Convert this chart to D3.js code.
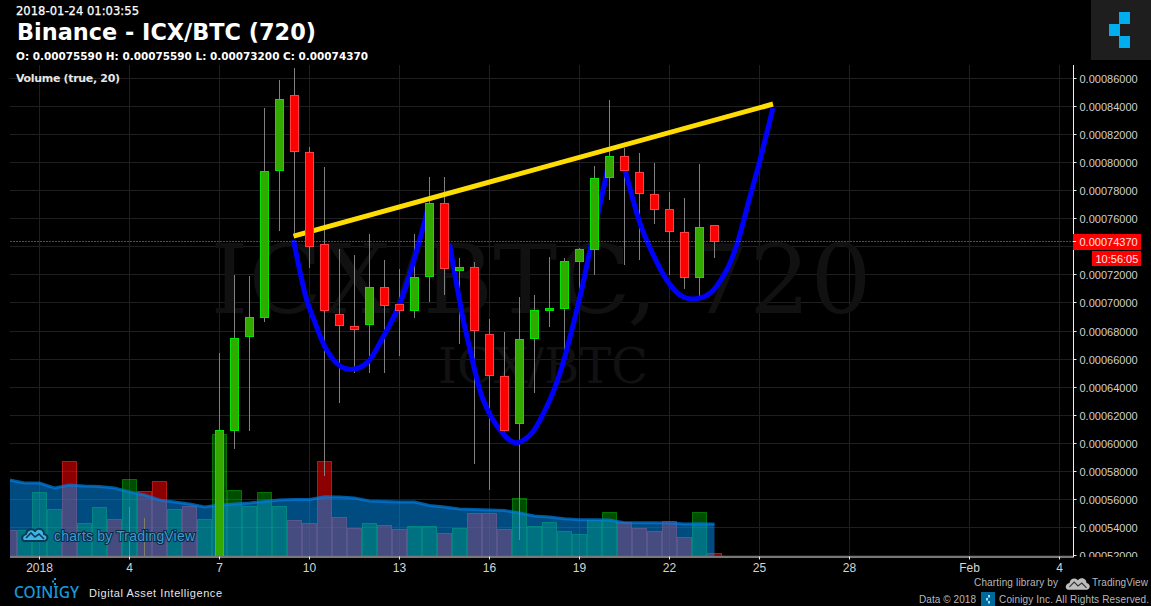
<!DOCTYPE html>
<html><head><meta charset="utf-8">
<script src="https://cdn.jsdelivr.net/npm/d3@7"></script>
<style>
html,body{margin:0;padding:0;background:#000;overflow:hidden}
svg{display:block}
text{font-family:"Liberation Sans",Arial,sans-serif}
</style></head><body>
<svg id="c" width="1151" height="606"></svg>
<script>
// ---------- data (prices in units of 1e-5 BTC) ----------
const exchangeTitle = "Binance - ICX/BTC (720)";
const stampText = "2018-01-24 01:03:55";
const ohlcText = "O: 0.00075590 H: 0.00075590 L: 0.00073200 C: 0.00074370";
const volumeLabel = "Volume (true, 20)";
const priceTicks = [86,84,82,80,78,76,74,72,70,68,66,64,62,60,58,56,54,52];
const dateTicks = [[2018,0,1,"2018"],[2018,0,4,"4"],[2018,0,7,"7"],[2018,0,10,"10"],[2018,0,13,"13"],[2018,0,16,"16"],[2018,0,19,"19"],[2018,0,22,"22"],[2018,0,25,"25"],[2018,0,28,"28"],[2018,1,1,"Feb"],[2018,1,4,"4"]];
// 12h candles from 2018-01-07 00:00
const candleOpen  = [50.0,60.90,67.60,68.95,79.39,84.80,80.74,74.18,69.19,68.34,68.41,71.12,69.91,69.41,71.83,77.10,72.26,72.54,67.77,64.77,61.35,67.41,69.45,69.59,72.94,73.80,78.89,80.45,79.31,77.75,76.68,75.04,71.76,75.59];
const candleHigh  = [66.43,71.99,71.92,83.88,85.89,86.73,81.10,79.67,73.83,73.40,74.92,73.06,72.42,74.92,78.96,78.96,73.18,72.92,68.86,67.93,70.43,70.57,73.28,73.18,73.90,79.76,84.47,81.02,80.67,79.96,77.89,77.46,79.88,75.59];
const candleLow   = [49.5,59.61,60.90,68.67,75.13,74.99,72.49,57.69,62.89,65.03,65.03,65.03,66.24,68.95,70.09,70.55,67.10,58.54,56.69,60.40,53.13,63.61,68.31,66.65,69.64,71.99,77.34,72.71,73.06,75.63,71.99,71.02,70.38,73.20];
const candleClose = [60.95,67.50,68.98,79.39,84.52,80.74,73.97,69.41,68.34,68.10,71.12,69.76,69.41,71.83,77.10,72.40,72.54,67.98,64.77,60.85,67.41,69.50,69.62,72.97,73.83,78.89,80.45,79.39,77.75,76.61,75.04,71.76,75.39,74.37];
// two earlier candles whose wicks just reach the visible range (2018-01-04 00:00, 12:00)
const earlyHighs = [55.46,54.67];
// volume per 12h bar from 2017-12-31 00:00
const volumeValues = [26,26,64,47,95,33,49,37,77,65,75,47,50,37,122,66,50,64,50,36,33,95,39,28,33,31,27,30,30,23,28,43,43,27,58,30,34,25,22,36,44,34,28,25,35,19,44,3];
const volumeUp = [0,1,1,1,0,1,1,0,1,0,0,1,0,1,1,1,1,1,1,0,0,0,0,0,1,0,0,1,1,0,1,0,0,0,1,1,1,1,1,1,1,0,0,0,0,0,1,0];
const volumeMA = [76,73,73,68,71,70,69.5,68,64,61,56,54,52,49,51,52,53,54.5,56,56.5,56.5,59.3,59,58,55,54.5,54,54,50.5,49,47,46.5,46,45.5,43,40,39,37.3,36.3,36.3,36,33.3,33.3,33.3,33,32,32.3,32];
const lastPrice = 74.37;
const countdownText = "10:56:05";
// drawings: [day of January, price]
const trendLine = [[9.467,74.77],[25.45,84.18]];
const cupOne = [[9.467,74.49],[9.907,70.21],[10.15,68.79],[10.573,66.65],[11.017,65.51],[11.407,65.26],[11.907,65.72],[12.46,67.60],[13.017,70.00],[13.85,75.91],[13.967,76.98]];
const cupTwo = [[14.667,74.2],[15.127,68.79],[15.317,67.0],[15.793,63.08],[16.35,60.95],[16.85,60.04],[17.35,60.59],[17.907,62.61],[18.35,65.01],[19.017,70.45],[19.35,73.78],[19.907,79.26],[19.983,80.19]];
const cupThree = [[20.517,79.48],[21.017,75.68],[21.35,73.92],[21.907,71.64],[22.35,70.57],[22.76,70.28],[23.35,70.69],[23.907,72.35],[24.24,74.13],[24.683,77.58],[25.017,80.19],[25.45,83.90]];

// ---------- scales ----------
const L=10,R=1073,T=65,B=556;
const H12=12*3600e3, J=(m,d,h=0)=>Date.UTC(2018,m,d,h);
const x=d3.scaleUtc().domain([J(0,1),J(1,4)]).range([39.5,1059.5]);
const y=d3.scaleLinear().domain([86,52]).range([78.5,555.5]);
const yV=d3.scaleLinear().domain([0,100]).range([556,456]);
const barTime=i=>J(0,1)+(i-2)*H12;
const candleTime=i=>J(0,7)+i*H12;
const dayX=d=>x(J(0,1)+(d-1)*2*H12);
const crisp=v=>Math.floor(v)+.5;

const svg=d3.select("#c");
const defs=svg.append("defs");
defs.append("clipPath").attr("id","plot").append("rect").attr("x",L).attr("y",T).attr("width",R-L).attr("height",B-T);
defs.append("clipPath").attr("id","yl").append("rect").attr("x",0).attr("y",T).attr("width",78).attr("height",B-T+1);

svg.append("rect").attr("width",1151).attr("height",606).attr("fill","#000");
const plot=svg.append("g").attr("clip-path","url(#plot)");

// grid
const gridColor="#1f1f1f";
plot.append("g").selectAll("line").data(priceTicks).join("line")
  .attr("x1",L).attr("x2",R).attr("y1",d=>crisp(y(d))).attr("y2",d=>crisp(y(d))).attr("stroke",gridColor);
const tickDates=dateTicks.map(d=>new Date(Date.UTC(d[0],d[1],d[2])));
plot.append("g").selectAll("line").data(tickDates).join("line")
  .attr("y1",T).attr("y2",B).attr("x1",d=>crisp(x(d))).attr("x2",d=>crisp(x(d))).attr("stroke",gridColor);

// watermark
plot.append("text").text("ICX/BTC, 720").attr("x",541).attr("y",313).attr("text-anchor","middle")
  .style("font-family","'DejaVu Serif'").style("font-size","96px").attr("fill","#111");
plot.append("text").text("ICX/BTC").attr("x",543).attr("y",383).attr("text-anchor","middle")
  .style("font-family","'DejaVu Serif'").style("font-size","48px").attr("fill","#111");

// volume
plot.append("g").selectAll("rect").data(volumeValues).join("rect")
  .attr("x",(d,i)=>x(barTime(i))-7).attr("width",14)
  .attr("y",d=>Math.round(yV(d))+.5).attr("height",d=>yV(0)-Math.round(yV(d)))
  .attr("fill",(d,i)=>volumeUp[i]?"rgba(0,255,0,.3)":"rgba(255,0,0,.55)")
  .attr("stroke",(d,i)=>volumeUp[i]?"rgba(0,255,0,.36)":"rgba(255,40,40,.6)");
const area=d3.area().x((d,i)=>x(barTime(i))).y0(yV(0)).y1(d=>yV(d));
const line=d3.line().x((d,i)=>x(barTime(i))).y(d=>yV(d));
plot.append("path").attr("d",area(volumeMA)).attr("fill","rgba(0,150,255,.5)");
plot.append("path").attr("d",line(volumeMA)).attr("fill","none").attr("stroke","rgba(0,125,225,.7)").attr("stroke-width",3);

// wicks
plot.append("g").selectAll("line").data(earlyHighs).join("line")
  .attr("x1",(d,i)=>x(J(0,4)+i*H12)).attr("x2",(d,i)=>x(J(0,4)+i*H12))
  .attr("y1",d=>y(d)).attr("y2",B).attr("stroke","#8a8860").attr("stroke-opacity",.85);
plot.append("g").selectAll("line").data(candleHigh).join("line")
  .attr("x1",(d,i)=>x(candleTime(i))).attr("x2",(d,i)=>x(candleTime(i)))
  .attr("y1",d=>Math.round(y(d))).attr("y2",(d,i)=>Math.round(y(candleLow[i])))
  .attr("stroke","#808080");

// drawings
const dl=d3.line().x(d=>dayX(d[0])).y(d=>y(d[1]));
const cl=d3.line().x(d=>dayX(d[0])).y(d=>y(d[1])).curve(d3.curveCatmullRom.alpha(.5));
[cupOne,cupTwo,cupThree].forEach(c=>plot.append("path").attr("d",cl(c)).attr("fill","none").attr("stroke","#0000ff").attr("stroke-width",5));
plot.append("path").attr("d",dl(trendLine)).attr("stroke","#ffdd00").attr("stroke-width",5).attr("fill","none");

// last price line
plot.append("line").attr("x1",L).attr("x2",R).attr("y1",crisp(y(lastPrice))).attr("y2",crisp(y(lastPrice)))
  .attr("stroke","#d01818").attr("stroke-dasharray","2 1");

// candle bodies
plot.append("g").selectAll("rect").data(candleClose).join("rect")
  .attr("x",(d,i)=>x(candleTime(i))-4)
  .attr("width",8)
  .attr("y",(d,i)=>Math.round(y(Math.max(d,candleOpen[i])))+.5)
  .attr("height",(d,i)=>Math.max(1,Math.round(y(Math.min(d,candleOpen[i])))-Math.round(y(Math.max(d,candleOpen[i])))-1))
  .attr("fill",(d,i)=>d>=candleOpen[i]?"#33a900":"#ff0000")
  .attr("stroke",(d,i)=>d>=candleOpen[i]?"#00e600":"#ff4040");

// axes
const yAxis=d3.axisRight(y).tickValues(priceTicks).tickSize(3).tickPadding(3).tickFormat(d=>(d/1e5).toFixed(8));
const gy=svg.append("g").attr("transform",`translate(${R+.5},0)`).attr("clip-path","url(#yl)").call(yAxis);
gy.select(".domain").remove();
gy.selectAll(".tick").attr("transform",d=>`translate(0,${crisp(y(d))})`);
gy.selectAll("line").attr("stroke","#e8e8e8");
gy.selectAll("text").attr("fill","#d0d0d0").attr("dy","0.4em").style("font-size","11px").style("font-family","'Liberation Sans'");
// the last-price flag covers the 0.00074 label
gy.selectAll(".tick").filter(d=>d===74).select("text").remove();
const labelByTime=new Map(tickDates.map((d,i)=>[+d,dateTicks[i][3]]));
const xAxis=d3.axisBottom(x).tickValues(tickDates).tickSize(3).tickPadding(4).tickFormat(d=>labelByTime.get(+d));
const gx=svg.append("g").attr("transform",`translate(0,${B+.5})`).call(xAxis);
gx.select(".domain").remove();
gx.selectAll(".tick").attr("transform",d=>`translate(${crisp(x(d))},0)`);
gx.selectAll("line").attr("stroke","#e8e8e8");
gx.selectAll("text").attr("fill","#d4d4d4").style("font-size","12px").style("font-family","'Liberation Sans'");
svg.append("line").attr("x1",L).attr("x2",R+1).attr("y1",B+1).attr("y2",B+1).attr("stroke","#f0f0f0");
svg.append("line").attr("x1",R+.5).attr("x2",R+.5).attr("y1",T).attr("y2",B+1).attr("stroke","#f0f0f0");

// price labels
const ly=crisp(y(lastPrice));
svg.append("rect").attr("x",R).attr("y",234).attr("width",68).attr("height",16).attr("fill","#ff0000");
svg.append("line").attr("x1",R).attr("x2",R+3).attr("y1",ly).attr("y2",ly).attr("stroke","#fff");
svg.append("text").text((lastPrice/1e5).toFixed(8)).attr("x",1079.5).attr("y",246).attr("fill","#ffe6e6").style("font-size","11px");
svg.append("rect").attr("x",1092).attr("y",251).attr("width",49).attr("height",15).attr("fill","#ff0000");
svg.append("text").text(countdownText).attr("x",1095.5).attr("y",262.5).attr("fill","#ffe6e6").style("font-size","11px");

// header
const hd=(t,xp,yp,size,w,len)=>svg.append("text").text(t).attr("x",xp).attr("y",yp).attr("fill","#fff")
  .attr("textLength",len).attr("lengthAdjust","spacingAndGlyphs")
  .style("font-family","'DejaVu Sans'").style("font-size",size+"px").style("font-weight",w);
hd(stampText,16,15,11.5,"normal",123).attr("stroke","#fff").attr("stroke-width",.25);
hd(exchangeTitle,17,40,23,"bold",299);
hd(ohlcText,16,60,11,"bold",352);
svg.append("text").text(volumeLabel).attr("x",16).attr("y",82).attr("fill","#e6e6e6")
  .attr("textLength",104).style("font-family","'DejaVu Sans'").style("font-size","11px").style("font-weight","bold");

// top-right logo
svg.append("rect").attr("x",1091).attr("y",0).attr("width",60).attr("height",60).attr("fill","#1e1e1e");
const sq=[[1119,12],[1109,24],[1119,36]];
svg.append("g").selectAll("rect").data(sq).join("rect").attr("x",d=>d[0]).attr("y",d=>d[1]).attr("width",11).attr("height",12).attr("fill","#00aeef");

// TradingView overlay
const cloud="M-10 6 C-14 6 -14 0 -9 -1 C-8 -6 -3 -7 0 -4 C3 -8 9 -6 9 -1 C14 0 13 6 9 6 Z";
svg.append("path").attr("d",cloud).attr("transform","translate(35,535)")
  .attr("fill","#3fb4e6").attr("stroke","#0c3a55").attr("stroke-width",2);
svg.append("path").attr("d","M-9 3 L-4 -2 L0 2 L4 -1 L9 4").attr("transform","translate(35,535)")
  .attr("fill","none").attr("stroke","#0c3a55").attr("stroke-width",1.6);
svg.append("text").text("charts by TradingView").attr("x",54).attr("y",541).attr("textLength",141)
  .attr("fill","#3f9ad0").attr("stroke","#0a2a40").attr("stroke-width",2).attr("paint-order","stroke")
  .style("font-size","14px");

// footer
svg.append("text").text("COINIGY").attr("x",14).attr("y",598).attr("textLength",65).attr("lengthAdjust","spacingAndGlyphs")
  .attr("fill","#169bd8").style("font-family","'Noto Sans'").style("font-size","16px").style("font-weight",500);
svg.append("g").selectAll("rect").data([[54,578],[52,580.5],[54,583]]).join("rect").attr("x",d=>d[0]).attr("y",d=>d[1]).attr("width",2).attr("height",2).attr("fill","#169bd8");
svg.append("text").text("Digital Asset Intelligence").attr("x",89).attr("y",597).attr("textLength",133)
  .attr("fill","#e6e6e6").style("font-size","11px");
svg.append("text").text("Charting library by").attr("x",974).attr("y",586).attr("textLength",84)
  .attr("fill","#b8b8b8").style("font-size","10px");
svg.append("path").attr("d",cloud).attr("transform","translate(1078,584) scale(.95)").attr("fill","#bdbdbd");
svg.append("path").attr("d","M-9 3 L-4 -2 L0 2 L4 -1 L9 4").attr("transform","translate(1078,584) scale(.95)").attr("fill","none").attr("stroke","#333").attr("stroke-width",1.2);
svg.append("text").text("TradingView").attr("x",1092).attr("y",586).attr("textLength",56)
  .attr("fill","#b8b8b8").style("font-size","10px");
svg.append("text").text("Data © 2018").attr("x",919).attr("y",603).attr("textLength",57)
  .attr("fill","#b8b8b8").style("font-size","10px");
svg.append("rect").attr("x",981).attr("y",592).attr("width",14).attr("height",14).attr("fill","#00699c");
svg.append("g").selectAll("rect").data([[988,595],[986,598],[988,601]]).join("rect").attr("x",d=>d[0]).attr("y",d=>d[1]).attr("width",2).attr("height",2.5).attr("fill","#9fe0ff");
svg.append("text").text("Coinigy Inc. All Rights Reserved.").attr("x",999).attr("y",603).attr("textLength",150)
  .attr("fill","#b8b8b8").style("font-size","10px");
</script>
</body></html>
